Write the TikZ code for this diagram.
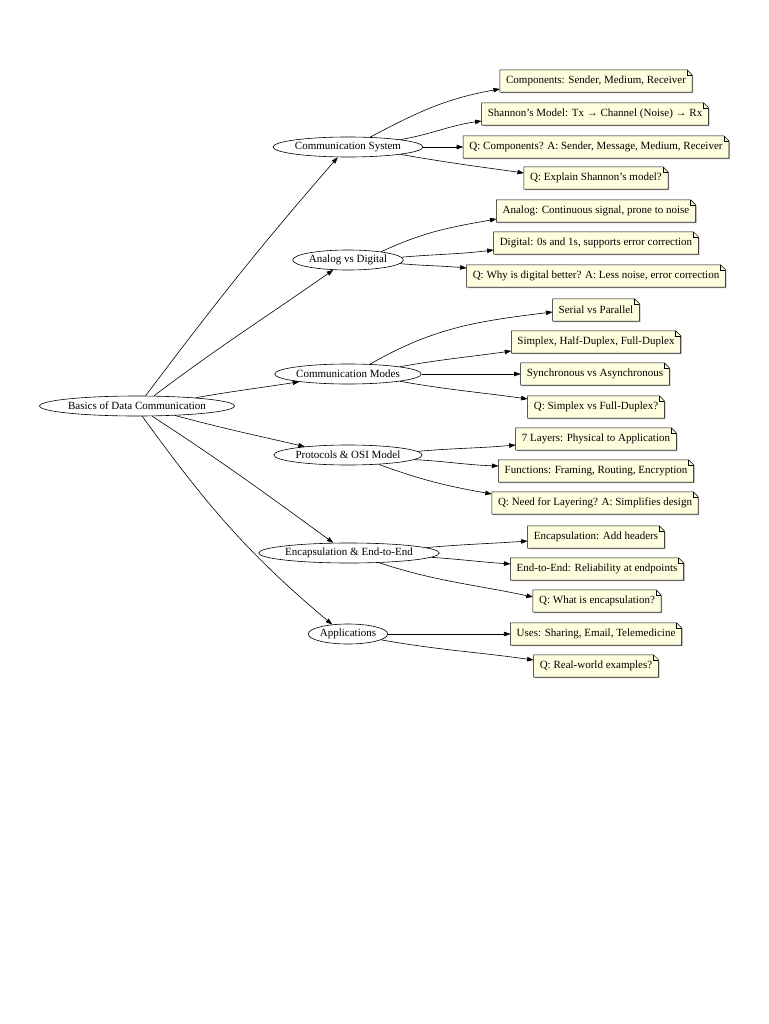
\documentclass[tikz,border=0pt]{standalone}
\usepackage{fontspec}
\setmainfont{Liberation Serif}
\usetikzlibrary{shapes.geometric,arrows.meta,backgrounds}
\definecolor{noteyellow}{HTML}{FFFFE0}
\begin{document}
\begin{tikzpicture}[x=1pt,y=-1pt,
  cat/.style={ellipse,draw,inner sep=0pt,minimum height=20pt,font=\fontsize{11}{13}\selectfont,line width=0.6pt},
  notebox/.style={rectangle,inner xsep=6pt,inner ysep=0pt,minimum height=22pt,font=\fontsize{11}{13}\selectfont},
  link/.style={line width=0.6pt,-{Triangle[length=6.5pt,width=4.5pt]}}]
\useasboundingbox (0,0) rectangle (768,1024);

% root and categories
\node[cat] (root) at (137,406) {Basics of Data Communication};
\node[cat] (cs) at (348,147) {Communication System};
\node[cat] (ad) at (348,260) {Analog vs Digital};
\node[cat] (cm) at (348,374) {Communication Modes};
\node[cat] (po) at (348,455) {Protocols \& OSI Model};
\node[cat] (en) at (349,553) {Encapsulation \& End-to-End};
\node[cat] (ap) at (348,634) {Applications};

% notes
\node[notebox] (n1) at (596,81) {Components: Sender, Medium, Receiver};
\node[notebox] (n2) at (595,114) {Shannon's Model: Tx → Channel (Noise) → Rx};
\node[notebox] (n3) at (596,147) {Q: Components? A: Sender, Message, Medium, Receiver};
\node[notebox] (n4) at (596,178) {Q: Explain Shannon's model?};
\node[notebox] (n5) at (596,211) {Analog: Continuous signal, prone to noise};
\node[notebox] (n6) at (596,243) {Digital: 0s and 1s, supports error correction};
\node[notebox] (n7) at (596,276) {Q: Why is digital better? A: Less noise, error correction};
\node[notebox] (n8) at (596,310) {Serial vs Parallel};
\node[notebox] (n9) at (596,342) {Simplex, Half-Duplex, Full-Duplex};
\node[notebox] (n10) at (595,374) {Synchronous vs Asynchronous};
\node[notebox] (n11) at (596,407) {Q: Simplex vs Full-Duplex?};
\node[notebox] (n12) at (596,439) {7 Layers: Physical to Application};
\node[notebox] (n13) at (596,471) {Functions: Framing, Routing, Encryption};
\node[notebox] (n14) at (595,503) {Q: Need for Layering? A: Simplifies design};
\node[notebox] (n15) at (596,537) {Encapsulation: Add headers};
\node[notebox] (n16) at (597,569) {End-to-End: Reliability at endpoints};
\node[notebox] (n17) at (597,601) {Q: What is encapsulation?};
\node[notebox] (n18) at (596,634) {Uses: Sharing, Email, Telemedicine};
\node[notebox] (n19) at (596,666) {Q: Real-world examples?};

\begin{scope}[on background layer]
\foreach \i in {1,...,19}{
  \fill[black!40] ([shift={(1pt,-1pt)}]n\i.south west) -- ([shift={(1pt,-1pt)}]n\i.north west) -- ([shift={(-4pt,-1pt)}]n\i.north east) -- ([shift={(1pt,-6pt)}]n\i.north east) -- ([shift={(1pt,-1pt)}]n\i.south east) -- cycle;
  \draw[line width=0.5pt,fill=noteyellow] (n\i.south west) -- (n\i.north west) -- ([xshift=-5pt]n\i.north east) -- ([yshift=-5pt]n\i.north east) -- (n\i.south east) -- cycle;
  \draw[line width=0.5pt] ([xshift=-5pt]n\i.north east) -- ([xshift=-5pt,yshift=-5pt]n\i.north east) -- ([yshift=-5pt]n\i.north east);
}
\end{scope}

% root to categories
\draw[link] (root.50) to[out=53,in=229] (cs.225);
\draw[link] (root.31) to[out=37,in=215] (ad.214);
\draw[link] (root.8) to[out=10,in=189] (cm.189);
\draw[link] (root.-14) to[out=-15,in=167] (po.169);
\draw[link] (root.-34) to[out=-33,in=144] (en.147);
\draw[link] (root.-63) to[out=-54,in=140] (ap.149);

% communication system
\draw[link] (cs.24) to[out=28,in=190] ([yshift=-8pt]n1.west);
\draw[link] (cs.8) to[out=10,in=188] ([yshift=-7pt]n2.west);
\draw[link] (cs) -- (n3);
\draw[link] (cs.-8) to[out=-10,in=172] ([yshift=5pt]n4.west);

% analog vs digital
\draw[link] (ad.14) to[out=25,in=190] ([yshift=-8pt]n5.west);
\draw[link] (ad.3) to[out=5,in=187] ([yshift=-7pt]n6.west);
\draw[link] (ad.-4) to[out=-5,in=175] ([yshift=8pt]n7.west);

% communication modes
\draw[link] (cm.24) to[out=30,in=187] ([yshift=-2pt]n8.west);
\draw[link] (cm.8) to[out=10,in=188] ([yshift=-9pt]n9.west);
\draw[link] (cm) -- (n10);
\draw[link] (cm.-8) to[out=-10,in=172] ([yshift=8pt]n11.west);

% protocols
\draw[link] (po.3) to[out=5,in=185] ([yshift=-6pt]n12.west);
\draw[link] (po.-4) to[out=-3,in=178] ([yshift=5pt]n13.west);
\draw[link] (po.-17) to[out=-20,in=170] ([yshift=9pt]n14.west);

% encapsulation
\draw[link] (en.4) to[out=5,in=184] ([yshift=-4pt]n15.west);
\draw[link] (en.-3) to[out=-4,in=176] ([yshift=5pt]n16.west);
\draw[link] (en.-18) to[out=-18,in=168] ([yshift=4pt]n17.west);

% applications
\draw[link] (ap) -- (n18);
\draw[link] (ap.-10) to[out=-10,in=172] ([yshift=6pt]n19.west);
\end{tikzpicture}
\end{document}
